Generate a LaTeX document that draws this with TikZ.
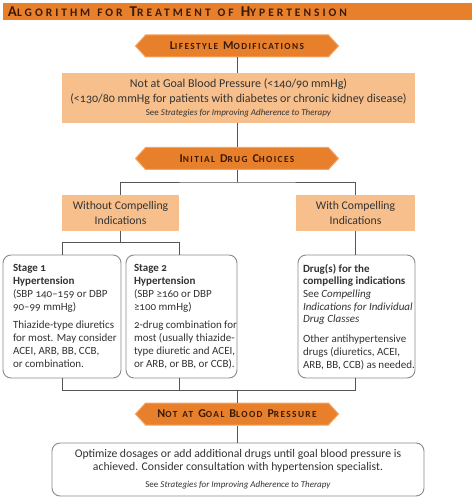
\documentclass[tikz,border=0pt]{standalone}
\usepackage{fontspec}
\setmainfont{Carlito}[Numbers=OldStyle]
\usetikzlibrary{shapes.symbols,calc}
\definecolor{orng}{HTML}{E8802B}
\definecolor{hexedge}{HTML}{F2A565}
\definecolor{lightbox}{HTML}{F7BF8C}
\definecolor{linegray}{HTML}{555555}
\definecolor{txt}{HTML}{333333}
\definecolor{hextxt}{HTML}{3B1A08}
\definecolor{boxedge}{HTML}{8A8A8A}
\newcommand\tsc[2]{{\fontsize{15}{15}\selectfont #1}{\fontsize{11.5}{11.5}\selectfont #2}}
\newcommand\hsc[2]{{\fontsize{12}{12}\selectfont #1}{\fontsize{9.3}{9.3}\selectfont #2}}
\newcommand\tsp{\hspace{7pt}}
\newcommand\hsp{\hspace{5pt}}
\newcommand\boxtext[3]{\hspace*{#1}\parbox[c][105pt][t]{#2}{\raggedright\hyphenpenalty=10000 #3}}
\begin{document}
\begin{tikzpicture}[x=1pt,y=-1pt,
  titlebar/.style={rectangle, fill=orng, minimum width=469, minimum height=17, inner xsep=5, inner ysep=0, text width=459, align=left, text=hextxt, font=\bfseries\addfontfeatures{LetterSpace=26}},
  hexbox/.style={signal, signal to=west and east, signal pointer angle=95, fill=orng, draw=hexedge, line width=1, minimum width=203, minimum height=22, inner sep=0, text=hextxt, font=\bfseries\addfontfeatures{LetterSpace=15}},
  softbox/.style={rectangle, fill=lightbox, inner sep=0, align=center, text=txt},
  roundbox/.style={rectangle, rounded corners=8, draw=boxedge, line width=0.9, fill=white, inner sep=0, text=txt},
  conn/.style={draw=linegray, line width=0.9}
]
\useasboundingbox (0,0) rectangle (474,502);

\node[titlebar] (title) at (237.5,11.5) {\tsc{A}{LGORITHM}\tsp\tsc{}{FOR}\tsp\tsc{T}{REATMENT}\tsp\tsc{}{OF}\tsp\tsc{H}{YPERTENSION}};

\node[hexbox] (h1) at (237,46) {\hsc{L}{IFESTYLE}\hsp\hsc{M}{ODIFICATIONS}};

\node[softbox, minimum width=353, minimum height=50, font=\fontsize{12}{15}\selectfont] (main) at (238.5,98)
  {Not at Goal Blood Pressure (<140/90 mmHg)\\
   (<130/80 mmHg for patients with diabetes or chronic kidney disease)\\[-2pt]
   {\fontsize{9}{10}\selectfont See \textit{Strategies for Improving Adherence to Therapy}}};

\node[hexbox] (h2) at (237,158.5) {\hsc{I}{NITIAL}\hsp\hsc{D}{RUG}\hsp\hsc{C}{HOICES}};

\node[softbox, minimum width=117, minimum height=36, font=\fontsize{11.7}{15}\selectfont] (wo) at (120.5,213)
  {Without Compelling\\Indications};
\node[softbox, minimum width=119, minimum height=36, font=\fontsize{11.7}{15}\selectfont] (wi) at (355.5,213)
  {With Compelling\\Indications};

\node[roundbox, minimum width=118, minimum height=123] (s1) at (62,316.5)
  {\boxtext{10pt}{108pt}{\fontsize{11}{13}\selectfont
   \textbf{Stage 1\\Hypertension}\\
   (SBP 140–159 or DBP\\90–99 mmHg)\\[5pt]
   Thiazide-type diuretics\\for most. May consider\\ACEI, ARB, BB, CCB,\\or combination.}};

\node[roundbox, minimum width=111, minimum height=123] (s2) at (181.5,316.5)
  {\boxtext{8pt}{103pt}{\fontsize{11}{13}\selectfont
   \textbf{Stage 2\\Hypertension}\\
   (SBP ≥160 or DBP\\≥100 mmHg)\\[5pt]
   2-drug combination for\\most (usually thiazide-\\type diuretic and ACEI,\\or ARB, or BB, or CCB).}};

\node[roundbox, minimum width=117, minimum height=123] (comp) at (356.5,316.5)
  {\boxtext{5pt}{112pt}{\fontsize{11}{12.7}\selectfont
   \textbf{Drug(s) for the\\compelling indications}\\
   See \textit{Compelling\\Indications for Individual\\Drug Classes}\\[7pt]
   Other antihypertensive\\drugs (diuretics, ACEI,\\ARB, BB, CCB) as needed.}};

\node[hexbox] (h3) at (237,414) {\hsc{N}{OT}\hsp\hsc{}{AT}\hsp\hsc{G}{OAL}\hsp\hsc{B}{LOOD}\hsp\hsc{P}{RESSURE}};

\node[roundbox, minimum width=372, minimum height=53, align=center, font=\fontsize{11.7}{13}\selectfont] (final) at (238,469.5)
  {Optimize dosages or add additional drugs until goal blood pressure is\\
   achieved. Consider consultation with hypertension specialist.\\[4pt]
   {\fontsize{9}{10}\selectfont See \textit{Strategies for Improving Adherence to Therapy}}};

% junction coordinates
\coordinate (j1) at (237,182);
\coordinate (j2) at (120.5,242);
\coordinate (a2) at (179,242);
\coordinate (b) at (237,390);

\draw[conn] (h1.south) -- (h1.south |- main.north);
\draw[conn] (h1.south |- main.south) -- (h2.north);
\draw[conn] (h2.south) -- (j1);
\draw[conn] (wo.north) |- (j1) -| (wi.north);
\draw[conn] (wo.south) -- (j2);
\draw[conn] (s1.north) |- (a2) -- (a2 |- s2.north);
\draw[conn] (wi.south) -- (wi.south |- comp.north);
\draw[conn] (s1.south) |- (b);
\draw[conn] (a2 |- s2.south) -- (a2 |- b);
\draw[conn] (wi.south |- comp.south) |- (b);
\draw[conn] (b) -- (h3.north);
\draw[conn] (h3.south) -- (h3.south |- final.north);
\end{tikzpicture}
\end{document}
